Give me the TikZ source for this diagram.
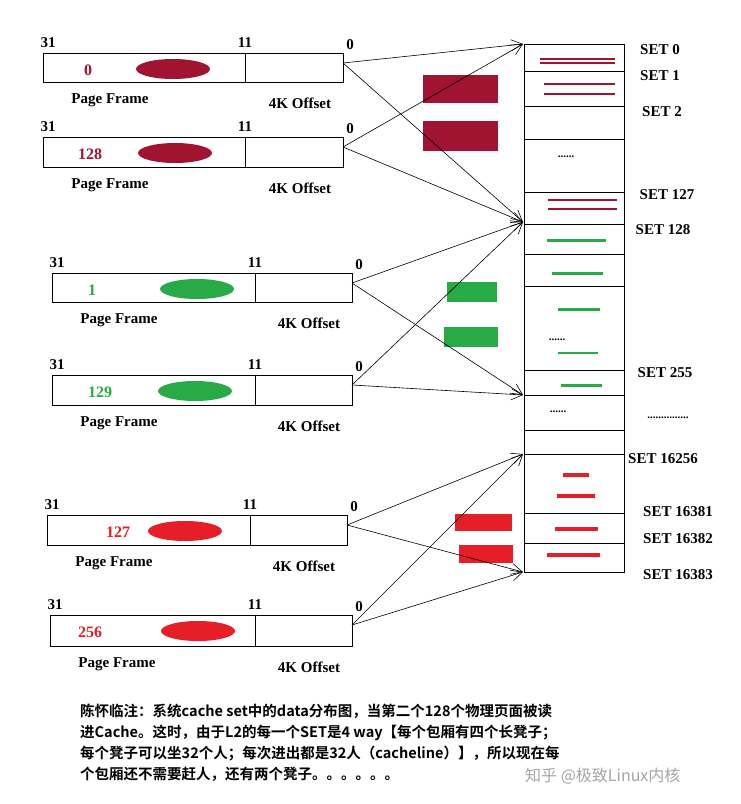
\documentclass[tikz,border=0pt]{standalone}
\usepackage{fontspec}
\setmainfont{Liberation Serif}
\newfontfamily\cjk{Noto Sans CJK SC}[BoldFont={Noto Sans CJK SC Bold}]
\usetikzlibrary{arrows.meta}
\definecolor{dred}{RGB}{160,20,50}
\definecolor{gr}{RGB}{40,170,70}
\definecolor{rd}{RGB}{230,30,40}
\begin{document}
\begin{tikzpicture}[x=1pt,y=-1pt,
  lbl/.style={font=\bfseries\fontsize{15}{15}\selectfont,inner sep=0pt},
  arr/.style={-{Straight Barb[length=11pt,width=11pt]},line width=0.6pt},
  cl/.style={line width=0.7pt}]
\useasboundingbox[fill=white] (0,0) rectangle (741,804);
\newcommand\abox[9]{%
  \draw[line width=0.7pt] (#1,#4) rectangle (#2,#5);
  \draw[line width=0.7pt] (#3,#4) -- (#3,#5);
  \node[lbl] at (#1+5,#4-10) {31};
  \node[lbl] at (#3,#4-10) {11};
  \node[lbl] at (#2+7,#4-8) {0};
  \node[lbl,text=#7,font=\bfseries\fontsize{16}{16}\selectfont] at (#8,#4+17) {#6};
  \fill[#7] (#9,#4+16) ellipse (37 and 10);
  \node[lbl] at (#1+67,#5+18) {Page Frame};
  \node[lbl] at (#2-43,#5+21) {4K Offset};
  \coordinate (e#6) at (#2,#4+10);
}
\abox{43}{343}{245}{53}{82}{0}{dred}{88}{173}
\abox{43}{343}{245}{137}{167}{128}{dred}{90}{175}
\abox{52}{352}{255}{273}{302}{1}{gr}{92}{197}
\abox{52}{352}{255}{375}{405}{129}{gr}{100}{195}
\abox{47}{347}{250}{515}{545}{127}{rd}{118}{185}
\abox{50}{352}{255}{615}{646}{256}{rd}{90}{198}
% cache column
\draw[cl] (524,44) rectangle (624,572);
\foreach \y in {71,106,139,192,224,254,286,370,395,430,454,513,543}
  \draw[cl] (524,\y) -- (624,\y);
\coordinate (s0) at (523,44);
\coordinate (s128) at (523,222);
\coordinate (s255) at (523,395);
\coordinate (s16256) at (523,454);
\coordinate (s16383) at (523,572);
\foreach \y in {59,63} \draw[dred,line width=1.2pt] (540,\y)--(615,\y);
\foreach \y in {84,94} \draw[dred,line width=1.2pt] (544,\y)--(615,\y);
\foreach \y in {200,209} \draw[dred,line width=1.2pt] (548,\y)--(617,\y);
\draw[gr,line width=3pt] (547,240)--(606,240);
\draw[gr,line width=3pt] (552,273)--(603,273);
\draw[gr,line width=3pt] (558,309)--(600,309);
\draw[gr,line width=2.5pt] (558,353)--(598,353);
\draw[gr,line width=3pt] (561,385)--(602,385);
\draw[rd,line width=3.5pt] (563,475)--(589,475);
\draw[rd,line width=4pt] (557,496)--(595,496);
\draw[rd,line width=4pt] (555,529)--(598,529);
\draw[rd,line width=4pt] (547,555)--(600,555);
\node[lbl,font=\bfseries\fontsize{11}{11}\selectfont] at (566,157) {......};
\node[lbl,font=\bfseries\fontsize{11}{11}\selectfont] at (557,340) {......};
\node[lbl,font=\bfseries\fontsize{11}{11}\selectfont] at (558,412) {......};
\foreach \t/\x/\y in {SET 0/660/50,SET 1/660/76,SET 2/662/112,SET 127/667/195,SET 128/663/230,SET 255/665/373,SET 16256/663/459,SET 16381/678/512,SET 16382/678/539,SET 16383/678/575}
  \node[lbl] at (\x,\y) {\t};
\node[lbl,font=\bfseries\fontsize{11}{11}\selectfont] at (668,418) {...............};
\fill[dred] (423,75) rectangle (498,103);
\fill[dred] (423,121) rectangle (498,151);
\fill[gr] (447,282) rectangle (497,302);
\fill[gr] (444,327) rectangle (498,347);
\fill[rd] (455,514) rectangle (512,531);
\fill[rd] (459,545) rectangle (513,563);
\foreach \a/\b/\c in {0/s0/s128,128/s0/s128,1/s128/s255,129/s128/s255,127/s16256/s16383,256/s16256/s16383}{
  \draw[arr] (e\a) -- (\b);
  \draw[arr] (e\a) -- (\c);
}
\node[anchor=west,inner sep=0pt,align=left,font=\cjk\bfseries\fontsize{14.5}{21}\selectfont] at (80,743) {陈怀临注：系统cache set中的data分布图，当第二个128个物理页面被读\\进Cache。这时，由于L2的每一个SET是4 way【每个包厢有四个长凳子；\\每个凳子可以坐32个人；每次进出都是32人（cacheline）】，所以现在每\\个包厢还不需要赶人，还有两个凳子。。。。。。};
\node[anchor=west,inner sep=0pt,text=black!35,font=\cjk\fontsize{16}{16}\selectfont] at (525,776) {知乎 @极致Linux内核};
\end{tikzpicture}
\end{document}
